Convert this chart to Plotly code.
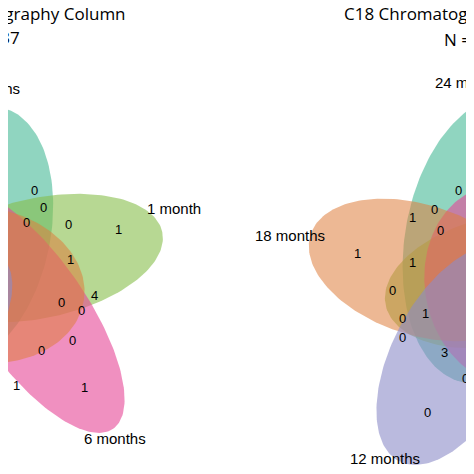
import numpy as np
import plotly.graph_objects as go

# ---- data ----
set_names = ["24 months", "1 month", "6 months", "18 months", "12 months"]
left_counts = [0, 0, 0, 0, 1, 1, 5, 4, 0, 0, 0, 0, 1, 1, 1]
right_counts = [0, 0, 1, 0, 1, 1, 0, 0, 1, 0, 3, 0, 0]
title_text = "C18 Chromatography Column"
n_text = "N = 37"

colors = {"24 months": "rgba(70,185,150,0.6)", "1 month": "rgba(135,190,75,0.6)",
          "6 months": "rgba(230,70,150,0.6)", "18 months": "rgba(222,125,60,0.55)",
          "12 months": "rgba(140,140,200,0.6)"}

# geometry (pixel layout): cx, cy, a, b, theta(deg)
left_geo = {"24 months": (-25, 235, 130, 75, -78), "1 month": (40, 258, 125, 60, -12),
            "6 months": (30, 310, 145, 55, 55), "18 months": (-20, 285, 105, 78, 8),
            "12 months": (-70, 340, 110, 55, 130)}
right_geo = {"24 months": (490, 240, 145, 85, -80), "1 month": (505, 280, 122, 65, -12),
             "6 months": (505, 285, 100, 80, 80), "18 months": (420, 270, 115, 65, 18),
             "12 months": (455, 355, 120, 62, -62)}

left_pos = [(34,190),(43,207),(26,222),(68,224),(118,229),(70,259),(1,285),(94,295),
            (61,302),(81,310),(72,340),(41,350),(4,357),(16,385),(84,387)]
right_pos = [(458,190),(434,209),(412,217),(440,230),(357,253),(412,262),(392,290),
             (402,318),(425,313),(402,337),(444,352),(465,378),(427,412)]

fig = go.Figure()
t = np.linspace(0, 2*np.pi, 200)
def ell(cx, cy, a, b, th):
    th = np.radians(th)
    x = cx + a*np.cos(t)*np.cos(th) - b*np.sin(t)*np.sin(th)
    y = cy + a*np.cos(t)*np.sin(th) + b*np.sin(t)*np.cos(th)
    return x, y

for geo in (left_geo, right_geo):
    for name in set_names:
        x, y = ell(*geo[name])
        fig.add_trace(go.Scatter(x=x, y=y, fill="toself", fillcolor=colors[name],
                                 line=dict(width=0), mode="lines", hoverinfo="skip",
                                 showlegend=False))

ann = []
for v, (x, y) in zip(left_counts, left_pos):
    ann.append(dict(x=x, y=y, text=str(v), showarrow=False, font=dict(size=13)))
for v, (x, y) in zip(right_counts, right_pos):
    ann.append(dict(x=x, y=y, text=str(v), showarrow=False, font=dict(size=13)))

lab = [("24 months", 22, 88, "right"), ("1 month", 145, 208, "left"),
       ("6 months", 82, 438, "left"), ("24 months", 433, 82, "left"),
       ("18 months", 253, 235, "left"), ("12 months", 348, 458, "left")]
for txt, x, y, xa in lab:
    ann.append(dict(x=x, y=y, text=txt, showarrow=False, xanchor=xa, font=dict(size=15)))

tf = dict(size=17, family="Open Sans, Arial")
ann.append(dict(x=128, y=13, text=title_text, showarrow=False, xanchor="right", font=tf))
ann.append(dict(x=22, y=37, text=n_text, showarrow=False, xanchor="right", font=tf))
ann.append(dict(x=342, y=13, text=title_text, showarrow=False, xanchor="left", font=tf))
ann.append(dict(x=442, y=39, text=n_text, showarrow=False, xanchor="left", font=tf))

fig.update_layout(width=474, height=474, margin=dict(l=0, r=0, t=0, b=0),
                  paper_bgcolor="white", plot_bgcolor="white",
                  font=dict(family="Arial, Liberation Sans", color="black"),
                  annotations=ann,
                  xaxis=dict(range=[8, 482], visible=False),
                  yaxis=dict(range=[482, 8], visible=False))
fig.write_html("out.html")
